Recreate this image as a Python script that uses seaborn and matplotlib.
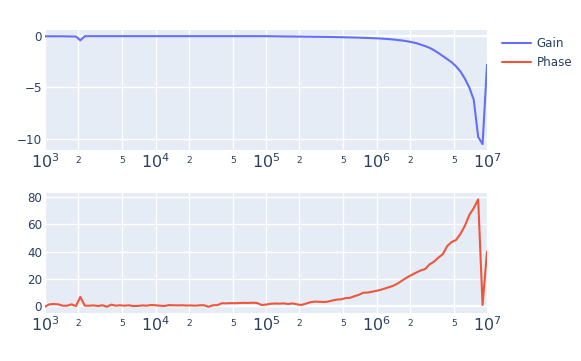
import matplotlib
matplotlib.use("Agg")
import matplotlib.pyplot as plt
from matplotlib.ticker import FixedLocator, FixedFormatter, NullFormatter, LogFormatterSciNotation
import seaborn as sns
import pandas as pd

freq = [1000, 1096, 1202, 1318, 1445, 1585, 1738, 1905, 2089, 2291, 2512, 2754, 3020, 3311, 3631,
        3981, 4365, 4786, 5248, 5754, 6310, 6918, 7586, 8318, 9120,
        10000, 10960, 12020, 13180, 14450, 15850, 17380, 19050, 20890, 22910, 25120, 27540, 30200,
        33110, 36310, 39810, 43650, 47860, 52480, 57540, 63100, 69180, 75860, 83180, 91200,
        100000, 109600, 120200, 131800, 144500, 158500, 173800, 190500, 208900, 229100, 251200,
        275400, 302000, 331100, 363100, 398100, 436500, 478600, 524800, 575400, 631000, 691800,
        758600, 831800, 912000,
        1000000, 1096000, 1202000, 1318000, 1445000, 1585000, 1738000, 1905000, 2089000, 2291000,
        2512000, 2754000, 3020000, 3311000, 3631000, 3981000, 4365000, 4786000, 5248000, 5754000,
        6310000, 6918000, 7586000, 8318000, 9120000, 10000000]

gain = [-0.03, -0.03, -0.03, -0.03, -0.03, -0.04, -0.05, -0.05, -0.42, -0.02,
        -0.02, -0.02, -0.02, -0.02, -0.02, -0.02, -0.02, -0.02, -0.02, -0.02,
        -0.02, -0.02, -0.02, -0.02, -0.02, -0.02, -0.02, -0.02, -0.02, -0.02,
        -0.02, -0.02, -0.02, -0.02, -0.02, -0.02, -0.02, -0.02, -0.02, -0.02,
        -0.02, -0.02, -0.02, -0.02, -0.02, -0.02, -0.02, -0.02, -0.02, -0.02,
        -0.02, -0.03, -0.03, -0.04, -0.04, -0.05, -0.05, -0.06, -0.06, -0.07,
        -0.07, -0.08, -0.08, -0.09, -0.09, -0.10, -0.11, -0.12, -0.13, -0.14,
        -0.15, -0.16, -0.18, -0.19, -0.21, -0.23, -0.25, -0.28, -0.31, -0.35,
        -0.40, -0.45, -0.52, -0.60, -0.70, -0.84, -0.98, -1.15, -1.38, -1.65,
        -1.95, -2.25, -2.55, -2.95, -3.45, -4.15, -5.0, -6.2, -9.8, -10.5,
        -2.8]

phase = [-0.7, 1.0, 1.2, 1.0, 0.0, 0.0, 1.0, -0.3, 6.5, 0.0,
         0.0, 0.2, -0.2, 0.3, -0.8, 0.8, 0.0, 0.3, 0.0, 0.3,
         -0.3, -0.2, 0.2, 0.0, 0.5, 0.3, 0.0, -0.2, 0.4, 0.3,
         0.2, 0.3, 0.1, 0.2, 0.0, 0.3, 0.3, -0.8, 0.3, 0.4,
         1.8, 1.7, 1.9, 1.8, 2.0, 2.1, 2.0, 2.2, 2.0, 0.5,
         0.8, 1.4, 1.6, 1.5, 1.7, 1.2, 1.7, 1.0, 0.5, 1.5,
         2.5, 3.0, 2.9, 2.7, 3.0, 3.8, 4.5, 4.7, 5.6, 5.8,
         7.0, 8.0, 9.6, 9.7, 10.3, 11.0, 11.8, 12.8, 13.8, 15.0,
         16.8, 19.0, 21.0, 22.8, 24.5, 26.0, 27.0, 30.5, 32.5, 35.5,
         38.0, 44.0, 47.0, 48.5, 53.0, 59.0, 67.0, 72.0, 78.5, 0.5,
         40.0]

series_names = ["Gain", "Phase"]
major_ticks = [1e3, 1e4, 1e5, 1e6, 1e7]
minor_ticks = [2e3, 5e3, 2e4, 5e4, 2e5, 5e5, 2e6, 5e6]
minor_labels = ["2", "5", "2", "5", "2", "5", "2", "5"]
gain_yticks = [0, -5, -10]
phase_yticks = [0, 20, 40, 60, 80]

df = pd.DataFrame({"freq": freq, "Gain": gain, "Phase": phase})

sns.set_theme(style="darkgrid", rc={"axes.facecolor": "#E5ECF6", "grid.color": "white",
                                    "axes.edgecolor": "#E5ECF6"})
plt.rcParams["font.family"] = ["DejaVu Sans"]
TXT = "#2a3f5f"

W, H = 581, 361
fig = plt.figure(figsize=(W / 100, H / 100), dpi=100)
ax1 = fig.add_axes([45 / W, 1 - 150 / H, 442 / W, 120 / H])
ax2 = fig.add_axes([45 / W, 1 - 313 / H, 442 / W, 120 / H])

colors = ["#636EFA", "#EF553B"]
sns.lineplot(data=df, x="freq", y="Gain", ax=ax1, color=colors[0], lw=1.5, label=series_names[0], legend=False)
sns.lineplot(data=df, x="freq", y="Phase", ax=ax2, color=colors[1], lw=1.5, label=series_names[1], legend=False)

for ax, yt, ylim in [(ax1, gain_yticks, (-11.07, 0.58)), (ax2, phase_yticks, (-5.4, 83.2))]:
    ax.set_xscale("log")
    ax.set_xlim(1e3, 1e7)
    ax.set_ylim(*ylim)
    ax.set_xlabel("")
    ax.set_ylabel("")
    ax.xaxis.set_major_locator(FixedLocator(major_ticks))
    ax.xaxis.set_major_formatter(LogFormatterSciNotation())
    ax.xaxis.set_minor_locator(FixedLocator(minor_ticks))
    ax.xaxis.set_minor_formatter(FixedFormatter(minor_labels))
    ax.set_yticks(yt)
    ax.set_yticklabels([str(v).replace("-", "\u2212") for v in yt])
    ax.grid(which="major", color="white", lw=1.0)
    ax.grid(which="minor", axis="x", color="white", lw=1.0)
    ax.axhline(0, color="white", lw=1.6, zorder=1.5)
    ax.tick_params(axis="x", which="major", length=0, pad=1.5, labelsize=11.5, colors=TXT)
    ax.tick_params(axis="x", which="minor", length=0, pad=4.5, labelsize=6.5, colors=TXT)
    ax.tick_params(axis="y", length=0, pad=2, labelsize=8.6, colors=TXT)
    for s in ax.spines.values():
        s.set_visible(False)
    for ln in ax.lines:
        if ln.get_color() in colors:
            ln.set_zorder(3)

h1, l1 = ax1.get_legend_handles_labels()
h2, l2 = ax2.get_legend_handles_labels()
leg = fig.legend(h1 + h2, l1 + l2, loc="upper left", bbox_to_anchor=(502 / W, 1 - 37 / H),
                 frameon=False, fontsize=8.6, handlelength=2.4, handletextpad=0.5,
                 labelspacing=0.5, borderaxespad=0, borderpad=0)
for t in leg.get_texts():
    t.set_color(TXT)
for lh in leg.get_lines():
    lh.set_linewidth(1.5)

fig.savefig("out.png", dpi=100)
